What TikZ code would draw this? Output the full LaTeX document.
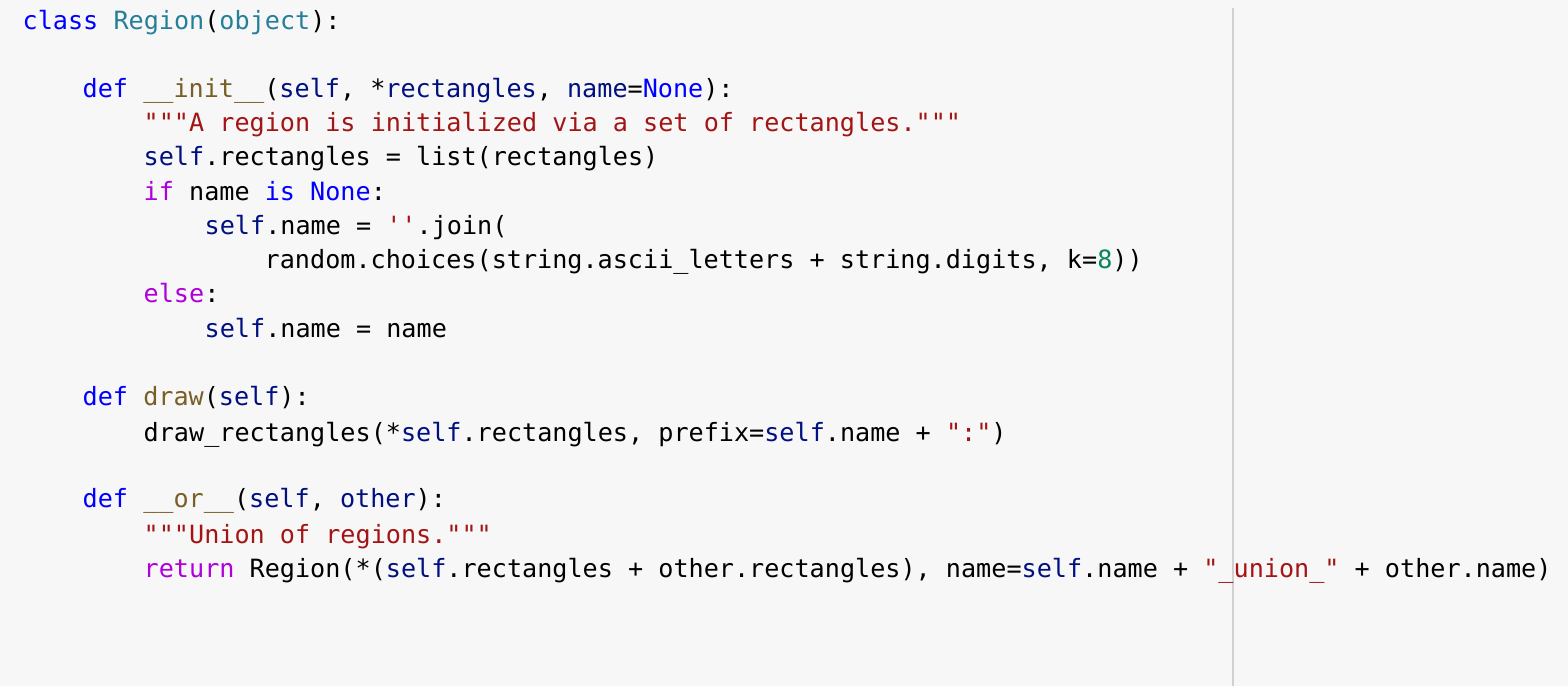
\documentclass[tikz,border=0pt]{standalone}
\usepackage{fontspec}
\setmonofont{DejaVu Sans Mono}
\usetikzlibrary{positioning}
\definecolor{codebg}{HTML}{F7F7F7}
\definecolor{kwblue}{HTML}{0000FF}
\definecolor{clsteal}{HTML}{267F99}
\definecolor{fnbrown}{HTML}{795E26}
\definecolor{strred}{HTML}{A31515}
\definecolor{selfnavy}{HTML}{001080}
\definecolor{ctrlpurple}{HTML}{AF00DB}
\definecolor{numgreen}{HTML}{098658}
\definecolor{rulegray}{HTML}{D0D0D0}
\newcommand{\kw}[1]{\textcolor{kwblue}{#1}}
\newcommand{\cls}[1]{\textcolor{clsteal}{#1}}
\newcommand{\fn}[1]{\textcolor{fnbrown}{#1}}
\newcommand{\str}[1]{\textcolor{strred}{#1}}
\newcommand{\slf}[1]{\textcolor{selfnavy}{#1}}
\newcommand{\ctl}[1]{\textcolor{ctrlpurple}{#1}}
\newcommand{\num}[1]{\textcolor{numgreen}{#1}}
\begin{document}
\begin{tikzpicture}[x=0.01cm,y=-0.01cm,
  codeline/.style={anchor=base west,inner sep=0pt,text=black,
    font=\ttfamily\fontsize{7.15}{9}\selectfont}]
	\fill[codebg] (0,0) rectangle (1568,686);
	\useasboundingbox (0,0) rectangle (1568,686);
	\draw[rulegray,line width=0.6pt] (1233,8) -- (1233,686);
	
	\node[codeline] (l1) at (22,30) {\kw{class} \cls{Region}(\cls{object}):};
	
	\node[codeline] (l2) at (82,98) {\kw{def} \fn{\_\_init\_\_}(\slf{self}, *\slf{rectangles}, \slf{name}=\kw{None}):};
	\node[codeline] (l3) at (143,132) {\str{"""A region is initialized via a set of rectangles."""}};
	\node[codeline] (l4) at (143,166) {\slf{self}.rectangles = list(rectangles)};
	\node[codeline] (l5) at (143,201) {\ctl{if} name \kw{is} \kw{None}:};
	\node[codeline] (l6) at (204,235) {\slf{self}.name = \str{\char39\char39}.join(};
	\node[codeline] (l7) at (264,269) {random.choices(string.ascii\_letters + string.digits, k=\num{8}))};
	\node[codeline] (l8) at (143,303) {\ctl{else}:};
	\node[codeline] (l9) at (204,338) {\slf{self}.name = name};
	
	\node[codeline] (l10) at (82,406) {\kw{def} \fn{draw}(\slf{self}):};
	\node[codeline] (l11) at (143,442) {draw\_rectangles(*\slf{self}.rectangles, prefix=\slf{self}.name + \str{":"})};
	
	\node[codeline] (l12) at (82,508) {\kw{def} \fn{\_\_or\_\_}(\slf{self}, \slf{other}):};
	\node[codeline] (l13) at (143,544) {\str{"""Union of regions."""}};
	\node[codeline] (l14) at (143,578) {\ctl{return} Region(*(\slf{self}.rectangles + other.rectangles), name=\slf{self}.name + \str{"\_union\_"} + other.name)};
\end{tikzpicture}
\end{document}
